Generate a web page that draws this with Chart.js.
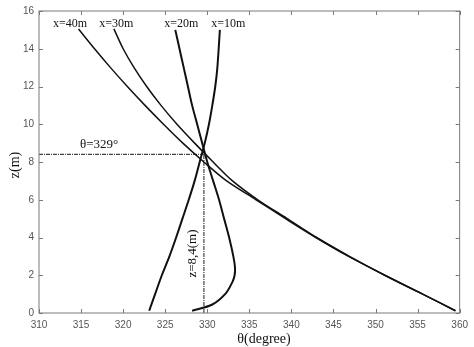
<!DOCTYPE html>
<html>
<head>
<meta charset="utf-8">
<script src="https://cdn.jsdelivr.net/npm/chart.js@4/dist/chart.umd.min.js"></script>
<style>
  html, body { margin: 0; padding: 0; background: #fff; }
  #wrap { width: 474px; height: 347px; }
</style>
</head>
<body>
<div id="wrap"><canvas id="chart" width="474" height="347"></canvas></div>
<script>
// tick values
const thetaTicks = [310, 315, 320, 325, 330, 335, 340, 345, 350, 355, 360];
const zTicks = [0, 2, 4, 6, 8, 10, 12, 14, 16];

// curve names
const curveNames = ['x=40m', 'x=30m', 'x=20m', 'x=10m'];

// x=40m
const z40     = [15.05, 14, 13, 12, 11, 10, 9, 8, 7, 6, 5, 4, 3, 2, 1, 0.12];
const theta40 = [314.7, 316.6, 318.5, 320.5, 322.6, 324.8, 327.1, 329.6, 332.3, 335.8, 339.3, 342.9, 346.8, 351.1, 355.6, 359.5];

// x=30m
const z30     = [15.05, 14, 13, 12, 11, 10, 9, 8, 7, 6, 5, 4, 3, 2, 1, 0.12];
const theta30 = [318.9, 320.0, 321.3, 322.8, 324.5, 326.4, 328.5, 330.7, 333.0, 336.0, 339.5, 343.0, 346.9, 351.1, 355.6, 359.5];

// x=20m
const z20     = [15, 14, 13, 12, 11, 10, 9, 8, 7, 6, 5, 4, 3, 2.4, 2, 1.65, 1.04, 0.45, 0.12];
const theta20 = [326.2, 326.7, 327.2, 327.7, 328.2, 328.8, 329.4, 330.0, 330.7, 331.4, 332.0, 332.6, 333.1, 333.3, 333.25, 333.0, 332.2, 330.6, 328.2];

// x=10m
const z10     = [15, 13, 12, 11, 10, 9, 8, 7, 6, 5, 4, 3, 2, 1, 0.12];
const theta10 = [331.5, 331.2, 330.95, 330.6, 330.2, 329.7, 329.1, 328.5, 327.8, 327.05, 326.3, 325.5, 324.6, 323.8, 323.1];

// intersection guide lines
const guideTheta = 329.6;
const guideZ = 8.4;

function pts(th, z) {
  return th.map((t, i) => ({ x: t, y: z[i] }));
}

const frame = {
  id: 'frame',
  afterDatasetsDraw(chart) {
    const ctx = chart.ctx;
    const a = chart.chartArea;
    const xs = chart.scales.x;
    const ys = chart.scales.y;
    ctx.save();
    ctx.strokeStyle = '#7a7a7a';
    ctx.lineWidth = 1;
    ctx.strokeRect(a.left, a.top, a.right - a.left, a.bottom - a.top);
    ctx.beginPath();
    thetaTicks.forEach(v => {
      const p = Math.round(xs.getPixelForValue(v)) + 0.5;
      ctx.moveTo(p, a.bottom); ctx.lineTo(p, a.bottom - 4);
      ctx.moveTo(p, a.top); ctx.lineTo(p, a.top + 4);
    });
    zTicks.forEach(v => {
      const p = Math.round(ys.getPixelForValue(v)) + 0.5;
      ctx.moveTo(a.left, p); ctx.lineTo(a.left + 4, p);
      ctx.moveTo(a.right, p); ctx.lineTo(a.right - 4, p);
    });
    ctx.stroke();

    ctx.fillStyle = '#111';
    ctx.textAlign = 'center';
    ctx.textBaseline = 'middle';
    ctx.font = '12px "Liberation Serif", serif';
    const labelTheta = [313.7, 319.2, 326.9, 332.5];
    curveNames.forEach((n, i) => {
      ctx.fillText(n, xs.getPixelForValue(labelTheta[i]), ys.getPixelForValue(15.3));
    });

    ctx.font = '13px "Liberation Serif", serif';
    ctx.fillText('θ=329°', xs.getPixelForValue(317.15), ys.getPixelForValue(8.9));

    ctx.save();
    ctx.translate(xs.getPixelForValue(328.2), ys.getPixelForValue(3.15));
    ctx.rotate(-Math.PI / 2);
    ctx.fillText('z=8,4(m)', 0, 0);
    ctx.restore();

    ctx.font = '14px "Liberation Serif", serif';
    ctx.fillText('θ(degree)', 264, 339);
    ctx.save();
    ctx.translate(15, 165);
    ctx.rotate(-Math.PI / 2);
    ctx.fillText('z(m)', 0, 0);
    ctx.restore();
    ctx.restore();
  }
};

const curveStyle = { showLine: true, pointRadius: 0, borderColor: '#111', tension: 0.3, fill: false };

new Chart(document.getElementById('chart'), {
  type: 'scatter',
  data: {
    datasets: [
      { ...curveStyle, label: curveNames[0], data: pts(theta40, z40), borderWidth: 1.5 },
      { ...curveStyle, label: curveNames[1], data: pts(theta30, z30), borderWidth: 1.5 },
      { ...curveStyle, label: curveNames[2], data: pts(theta20, z20), borderWidth: 2 },
      { ...curveStyle, label: curveNames[3], data: pts(theta10, z10), borderWidth: 2 },
      { showLine: true, pointRadius: 0, borderColor: '#444', borderWidth: 1.2, borderDash: [4, 1, 1, 1], tension: 0,
        data: [{ x: thetaTicks[0], y: guideZ }, { x: guideTheta, y: guideZ }] },
      { showLine: true, pointRadius: 0, borderColor: '#444', borderWidth: 1.2, borderDash: [4, 1, 1, 1], tension: 0,
        data: [{ x: guideTheta, y: zTicks[0] }, { x: guideTheta, y: guideZ }] }
    ]
  },
  options: {
    responsive: false,
    animation: false,
    devicePixelRatio: 1,
    layout: { padding: { top: 7, right: 12, left: 0, bottom: 0 } },
    plugins: { legend: { display: false }, tooltip: { enabled: false } },
    scales: {
      x: {
        type: 'linear', min: 310, max: 360,
        afterBuildTicks: s => { s.ticks = thetaTicks.map(v => ({ value: v })); },
        afterFit: s => { s.height = 34; },
        grid: { display: false, drawTicks: false },
        border: { display: false },
        ticks: { padding: 6, color: '#555', font: { family: '"Liberation Sans", Arial, sans-serif', size: 10 } }
      },
      y: {
        type: 'linear', min: 0, max: 16,
        afterBuildTicks: s => { s.ticks = zTicks.map(v => ({ value: v })); },
        afterFit: s => { s.width = 39; },
        grid: { display: false, drawTicks: false },
        border: { display: false },
        ticks: { padding: 5, color: '#555', font: { family: '"Liberation Sans", Arial, sans-serif', size: 10 } }
      }
    }
  },
  plugins: [frame]
});
</script>
</body>
</html>
